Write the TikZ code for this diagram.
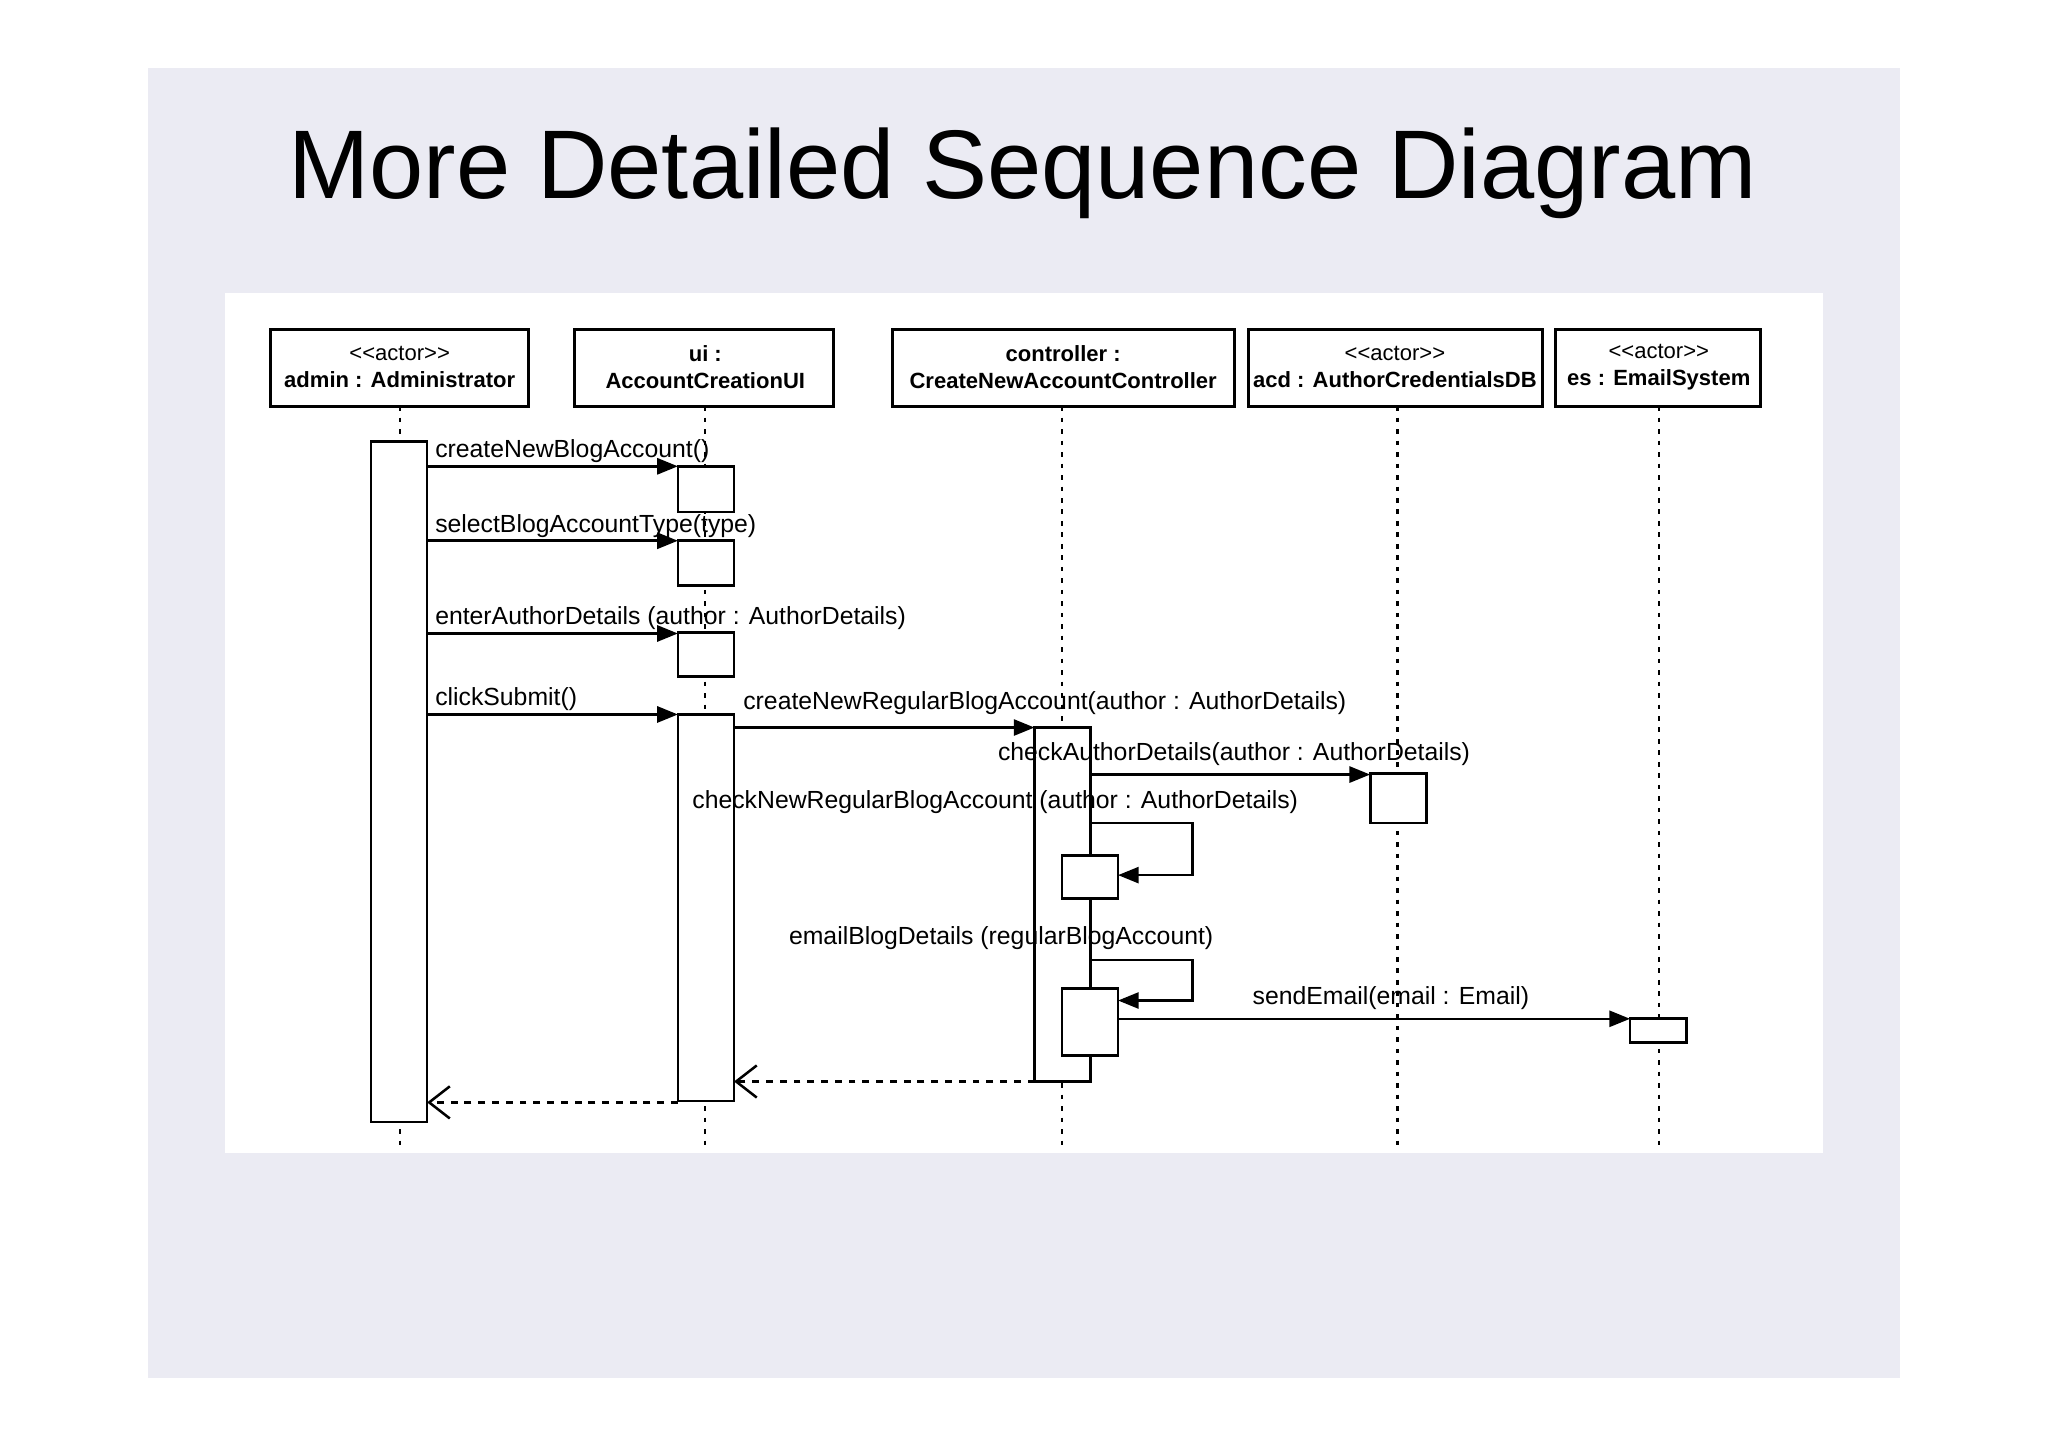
\documentclass[tikz,border=0pt]{standalone}
\usepackage{fontspec}
\setmainfont{Liberation Sans}
\usetikzlibrary{arrows.meta}
\definecolor{slide}{HTML}{EBEBF3}
\begin{document}
\begin{tikzpicture}[x=0.02cm,y=-0.02cm,
 act/.style={draw,line width=1.2pt,fill=white},
 hbox/.style={draw,line width=1.3pt},
 life/.style={dash pattern=on 2pt off 3pt,line width=1pt},
 msg/.style={line width=1.1pt,-{Triangle[length=9pt,width=7pt]}},
 ret/.style={line width=1.1pt,dashed,-{Straight Barb[length=9pt,width=14pt]}},
 lbl/.style={font=\fontsize{10.8}{13}\selectfont,inner sep=1pt},
 ht/.style={font=\fontsize{9.6}{11.5}\selectfont,align=center}]
\useasboundingbox (0,0) rectangle (1568,1107);
\fill[white] (0,0) rectangle (1568,1107);
\fill[slide] (113,52) rectangle (1455,1055);
\node[font=\fontsize{42.5}{50}\selectfont] (title) at (783,133) {More Detailed Sequence Diagram};
\fill[white] (172,224) rectangle (1396,883);
% headers
\draw[hbox] (207,252) rectangle (405,311);
\draw[hbox] (440,252) rectangle (638,311);
\draw[hbox] (683,252) rectangle (945,311);
\draw[hbox] (956,252) rectangle (1181,311);
\draw[hbox] (1191,252) rectangle (1348,311);
\node[ht] (h1) at (306,281) {<{}<actor>{}>\\\textbf{admin : Administrator}};
\node[ht] (h2) at (540,281) {\textbf{ui :}\\\textbf{AccountCreationUI}};
\node[ht] (h3) at (814,281) {\textbf{controller :}\\\textbf{CreateNewAccountController}};
\node[ht] (h4) at (1068,281) {<{}<actor>{}>\\\textbf{acd : AuthorCredentialsDB}};
\node[ht] (h5) at (1270,281) {<{}<actor>{}>\\\textbf{es : EmailSystem}};
% lifelines
\foreach \x in {306,540,813,1070,1270} \draw[life] (\x,311) -- (\x,877);
% activations
\draw[act] (284,338) rectangle (327,859);
\draw[act] (519,357) rectangle (562,392);
\draw[act] (519,414) rectangle (562,448);
\draw[act] (519,484) rectangle (562,518);
\draw[act] (519,547) rectangle (562,843);
\draw[act] (792,557) rectangle (835,828);
\draw[act] (1049,592) rectangle (1092,630);
\draw[act] (813,655) rectangle (856,688);
\draw[act] (813,757) rectangle (856,808);
\draw[act] (1248,780) rectangle (1291,798);
% messages
\coordinate (a1) at (327,357); \coordinate (b1) at (519,357);
\draw[msg] (a1) -- (b1) node[lbl,pos=0,above right,xshift=2pt] {createNewBlogAccount()};
\coordinate (a2) at (327,414); \coordinate (b2) at (519,414);
\draw[msg] (a2) -- (b2) node[lbl,pos=0,above right,xshift=2pt] {selectBlogAccountType(type)};
\coordinate (a3) at (327,485); \coordinate (b3) at (519,485);
\draw[msg] (a3) -- (b3) node[lbl,pos=0,above right,xshift=2pt] {enterAuthorDetails (author : AuthorDetails)};
\coordinate (a4) at (327,547); \coordinate (b4) at (519,547);
\draw[msg] (a4) -- (b4) node[lbl,pos=0,above right,xshift=2pt] {clickSubmit()};
\coordinate (a5) at (562,557); \coordinate (b5) at (792,557);
\draw[msg] (a5) -- (b5);
\node[lbl,anchor=west] (l5) at (567,538) {createNewRegularBlogAccount(author : AuthorDetails)};
\coordinate (a6) at (835,593); \coordinate (b6) at (1049,593);
\draw[msg] (a6) -- (b6);
\node[lbl,anchor=west] (l6) at (762,577) {checkAuthorDetails(author : AuthorDetails)};
\coordinate (a7) at (835,630); \coordinate (b7) at (856,670);
\draw[msg] (a7) -- (913,630) -- (913,670) -- (b7);
\node[lbl,anchor=west] (l7) at (528,614) {checkNewRegularBlogAccount (author : AuthorDetails)};
\coordinate (a8) at (835,735); \coordinate (b8) at (856,766);
\draw[msg] (a8) -- (913,735) -- (913,766) -- (b8);
\node[lbl,anchor=west] (l8) at (602,718) {emailBlogDetails (regularBlogAccount)};
\coordinate (a9) at (856,780); \coordinate (b9) at (1248,780);
\draw[msg] (a9) -- (b9);
\node[lbl,anchor=west] (l9) at (957,764) {sendEmail(email : Email)};
\coordinate (r1) at (792,828); \coordinate (r2) at (562,828);
\draw[ret] (r1) -- (r2);
\coordinate (r3) at (519,844); \coordinate (r4) at (327,844);
\draw[ret] (r3) -- (r4);
\end{tikzpicture}
\end{document}
